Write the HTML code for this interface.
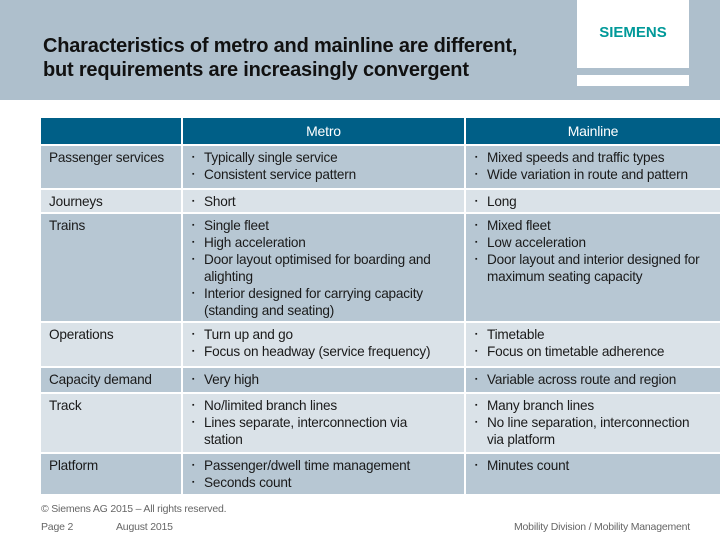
<!DOCTYPE html>
<html><head><meta charset="utf-8"><style>
*{margin:0;padding:0;box-sizing:border-box}
body{width:720px;height:540px;position:relative;background:#fff;font-family:"Liberation Sans",sans-serif;overflow:hidden;color:#1a1a1a}
.a{position:absolute}
.c{position:absolute;font-size:13.6px;line-height:17px;padding:3px 0 0 8px;letter-spacing:-0.2px;white-space:pre}
.d{background:#b7c7d3}.l{background:#dae2e8}
ul{list-style:none}
li{position:relative;padding-left:13px}
li:before{content:"▪";position:absolute;left:1px;top:0;font-size:7px}
.f{font-size:10.5px;color:#666;letter-spacing:-0.2px}
</style></head><body>
<div class="a" style="left:0;top:0;width:720px;height:100px;background:#aebfcc"></div>
<div class="a" style="left:43px;top:34px;font-size:20px;line-height:24px;color:#111;font-weight:bold;letter-spacing:-0.2px">Characteristics of metro and mainline are different,<br>but requirements are increasingly convergent</div>
<div class="a" style="left:577px;top:0;width:112px;height:68px;background:#fff;color:#009999;font-weight:bold;font-size:15px;text-align:center;padding-top:24px">SIEMENS</div>
<div class="a" style="left:577px;top:75px;width:112px;height:11px;background:#fff"></div>

<div class="a" style="left:41px;top:118px;width:679px;height:26px;background:#005f87"></div>
<div class="a" style="left:181px;top:118px;width:2px;height:376px;background:#fff"></div>
<div class="a" style="left:464px;top:118px;width:2px;height:376px;background:#fff"></div>
<div class="a" style="left:183px;top:123px;width:281px;text-align:center;color:#fff;font-size:14px;letter-spacing:-0.2px">Metro</div>
<div class="a" style="left:466px;top:123px;width:254px;text-align:center;color:#fff;font-size:14px;letter-spacing:-0.2px">Mainline</div>

<div id="rows"></div>

<div class="a f" style="left:41px;top:503px">© Siemens AG 2015 – All rights reserved.</div>
<div class="a f" style="left:41px;top:521px">Page 2</div>
<div class="a f" style="left:116px;top:521px">August 2015</div>
<div class="a f" style="left:514px;top:521px">Mobility Division / Mobility Management</div>

<script>
const rows=[
["Passenger services",["Typically single service","Consistent service pattern"],["Mixed speeds and traffic types","Wide variation in route and pattern"],146,42,"d"],
["Journeys",["Short"],["Long"],190,22,"l"],
["Trains",["Single fleet","High acceleration","Door layout optimised for boarding and\nalighting","Interior designed for carrying capacity\n(standing and seating)"],["Mixed fleet","Low acceleration","Door layout and interior designed for\nmaximum seating capacity"],214,107,"d"],
["Operations",["Turn up and go","Focus on headway (service frequency)"],["Timetable","Focus on timetable adherence"],323,43,"l"],
["Capacity demand",["Very high"],["Variable across route and region"],368,24,"d"],
["Track",["No/limited branch lines","Lines separate, interconnection via\nstation"],["Many branch lines","No line separation, interconnection\nvia platform"],394,58,"l"],
["Platform",["Passenger/dwell time management","Seconds count"],["Minutes count"],454,40,"d"]];
const host=document.getElementById('rows');
rows.forEach((r,i)=>{
 const cols=[[41,140],[183,281],[466,254]];
 cols.forEach((c,j)=>{
  const el=document.createElement('div');
  el.className='c '+r[5];
  
  
  el.style.left=c[0]+'px';el.style.top=r[3]+'px';el.style.width=c[1]+'px';el.style.height=r[4]+'px';
  el.style.overflow='hidden';
  if(j==0){el.textContent=r[0];}
  else{const ul=document.createElement('ul');r[j].forEach(t=>{const li=document.createElement('li');li.textContent=t;ul.appendChild(li);});el.appendChild(ul);}
  host.appendChild(el);
 });
});
</script>
</body></html>
